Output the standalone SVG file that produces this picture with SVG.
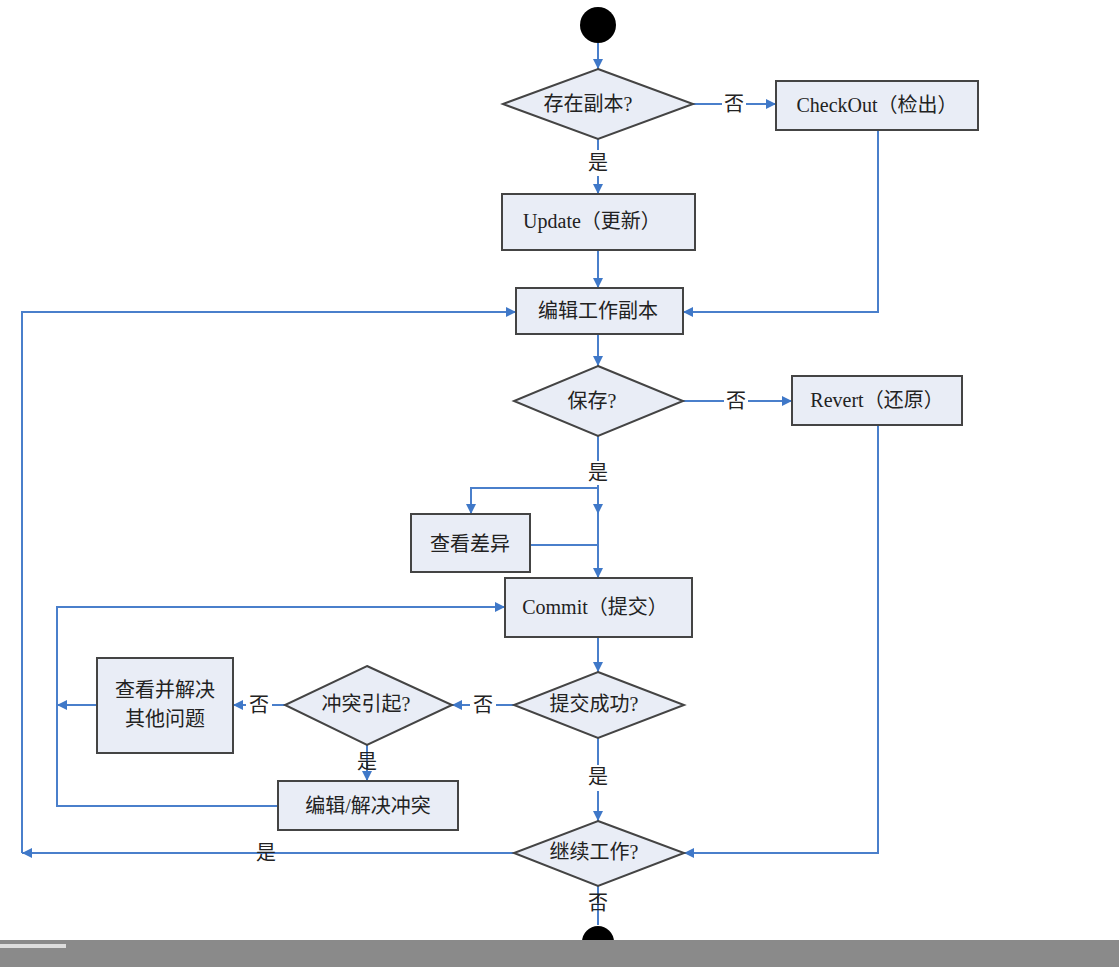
<svg xmlns="http://www.w3.org/2000/svg" width="1119" height="967" viewBox="0 0 1119 967">
<defs>
<marker id="a" viewBox="0 0 10 10" refX="10" refY="5" markerWidth="10" markerHeight="10" markerUnits="userSpaceOnUse" orient="auto"><path d="M0,0 L10,5 L0,10 z" fill="#3f78c8"/></marker>
<style>
.n{fill:#e9edf6;stroke:#444;stroke-width:2}
.t{font-family:"Liberation Serif","Noto Sans CJK SC",serif;font-size:20px;fill:#222;text-anchor:middle;dominant-baseline:central}
.c{fill:none;stroke:#4a7fcb;stroke-width:2}
.ca{fill:none;stroke:#4a7fcb;stroke-width:2;marker-end:url(#a)}
</style>
</defs>
<rect width="1119" height="967" fill="#fff"/>
<g id="connectors">
<path class="ca" d="M598,43 V69"/>
<path class="ca" d="M693,104 H776"/>
<path class="ca" d="M598,139 V194"/>
<path class="ca" d="M598,250 V288"/>
<path class="ca" d="M878,130 V312 H683"/>
<path class="ca" d="M598,334 V366"/>
<path class="ca" d="M683,401 H792"/>
<path class="ca" d="M598,436 V514"/>
<path class="ca" d="M598,488 H471 V514"/>
<path class="c" d="M530,545 H598"/>
<path class="ca" d="M598,514 V578"/>
<path class="ca" d="M598,637 V672"/>
<path class="ca" d="M514,705 H452"/>
<path class="ca" d="M285,705 H233"/>
<path class="ca" d="M97,705 H57"/>
<path class="ca" d="M367,745 V781"/>
<path class="ca" d="M278,806 H57 V607 H505"/>
<path class="ca" d="M598,738 V821"/>
<path class="ca" d="M878,425 V853 H684"/>
<path class="ca" d="M514,853 H22"/>
<path class="ca" d="M22,853 V312 H516"/>
<path class="c" d="M598,886 V925"/>
<rect x="722" y="92" width="24" height="24" fill="#fff"/><text class="t" x="734" y="104">否</text>
<rect x="586" y="150" width="24" height="26" fill="#fff"/><text class="t" x="598" y="163">是</text>
<rect x="724" y="389" width="24" height="24" fill="#fff"/><text class="t" x="736" y="401">否</text>
<rect x="586" y="461" width="24" height="24" fill="#fff"/><text class="t" x="598" y="473">是</text>
<rect x="470" y="693" width="26" height="24" fill="#fff"/><text class="t" x="483" y="705">否</text>
<rect x="246" y="693" width="26" height="24" fill="#fff"/><text class="t" x="259" y="705">否</text>
<text class="t" x="367" y="762">是</text>
<rect x="586" y="765" width="24" height="26" fill="#fff"/><text class="t" x="598" y="777">是</text>
<text class="t" x="266" y="853">是</text>
<text class="t" x="598" y="903">否</text>
</g>
<g id="start"><circle cx="598" cy="25" r="18" fill="#000"/></g>
<g id="d1"><polygon class="n" points="598,69 693,104 598,139 503,104"/><text class="t" x="588" y="104">存在副本?</text></g>
<g id="checkout"><rect class="n" x="776" y="81" width="202" height="49"/><text class="t" x="877" y="105">CheckOut（检出）</text></g>
<g id="update"><rect class="n" x="502" y="194" width="193" height="56"/><text class="t" x="592" y="221">Update（更新）</text></g>
<g id="edit"><rect class="n" x="516" y="288" width="167" height="46"/><text class="t" x="598" y="311">编辑工作副本</text></g>
<g id="d2"><polygon class="n" points="598,366 683,401 598,436 514,401"/><text class="t" x="592" y="401">保存?</text></g>
<g id="revert"><rect class="n" x="792" y="376" width="170" height="49"/><text class="t" x="877" y="400">Revert（还原）</text></g>
<g id="diff"><rect class="n" x="411" y="514" width="119" height="58"/><text class="t" x="470" y="544">查看差异</text></g>
<g id="commit"><rect class="n" x="505" y="578" width="187" height="59"/><text class="t" x="595" y="607">Commit（提交）</text></g>
<g id="d3"><polygon class="n" points="598,672 684,705 598,738 514,705"/><text class="t" x="594" y="704">提交成功?</text></g>
<g id="d4"><polygon class="n" points="367,666 452,705 367,745 285,705"/><text class="t" x="366" y="704">冲突引起?</text></g>
<g id="other"><rect class="n" x="97" y="658" width="136" height="95"/><text class="t" x="165" y="690">查看并解决</text><text class="t" x="165" y="719">其他问题</text></g>
<g id="resolve"><rect class="n" x="278" y="781" width="180" height="49"/><text class="t" x="368" y="806">编辑/解决冲突</text></g>
<g id="d5"><polygon class="n" points="598,821 684,853 598,886 514,853"/><text class="t" x="594" y="852">继续工作?</text></g>
<g id="end"><circle cx="598" cy="942" r="16" fill="#000"/></g>
<rect x="0" y="940" width="1119" height="27" fill="#8a8a8a"/>
<rect x="0" y="944" width="66" height="4" fill="#ddd"/>
</svg>
